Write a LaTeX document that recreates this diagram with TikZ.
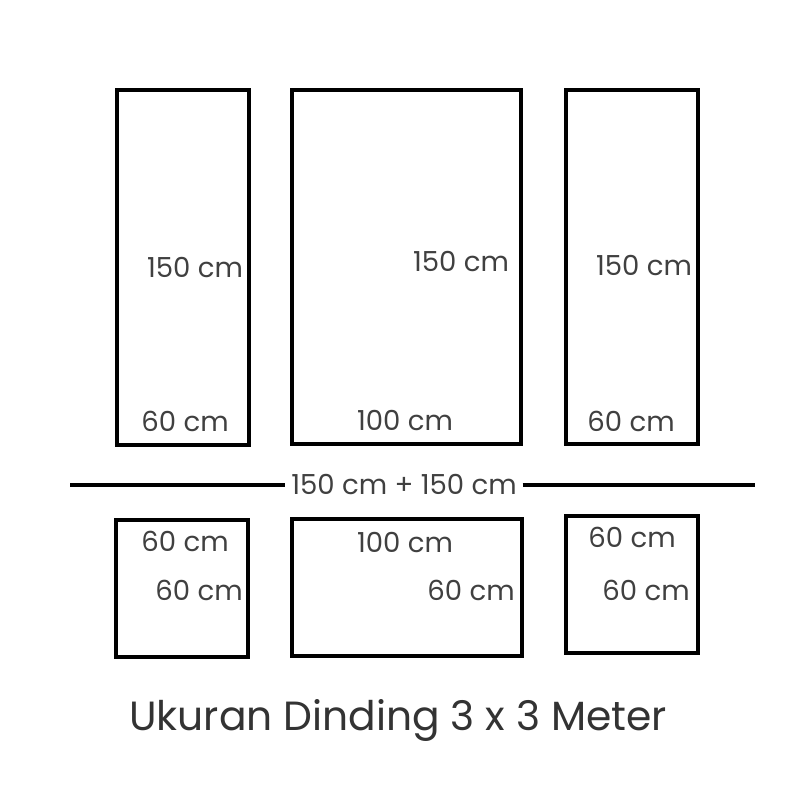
\documentclass[tikz,border=0pt]{standalone}
\usepackage{fontspec}
\setmainfont{Poppins}
\usepackage{tikz}
\usetikzlibrary{calc}

\begin{document}
\begin{tikzpicture}[x=0.025cm, y=-0.025cm]
    \tikzstyle{panel}=[draw=black,line width=2.8pt]
    \tikzstyle{size}=[text=black!75,font=\fontsize{19.6}{20}\selectfont,inner sep=1pt]
    \useasboundingbox[fill=white] (0,0) rectangle (800,800);
    % top row
    \draw[panel] (117,90) rectangle (249,445);
    \draw[panel] (292,90) rectangle (521,444);
    \draw[panel] (566,90) rectangle (698,444);
    \node[size] (h_1) at (195,268) {150 cm};
    \node[size] (w_1) at (185,421) {60 cm};
    \node[size] (h_2) at (461,262) {150 cm};
    \node[size] (w_2) at (405,421) {100 cm};
    \node[size] (h_3) at (644,266) {150 cm};
    \node[size] (w_3) at (631,421) {60 cm};
    % total height
    \coordinate (l_0) at (70,485);
    \coordinate (l_1) at (755,485);
    \node[size,inner sep=4pt] (tot) at (404,485) {150 cm + 150 cm};
    \draw[line width=2.6pt] (l_0) -- (tot.west);
    \draw[line width=2.6pt] (tot.east) -- (l_1);
    % bottom row
    \draw[panel] (116,520) rectangle (248,657);
    \draw[panel] (292,519) rectangle (522,656);
    \draw[panel] (566,516) rectangle (698,653);
    \node[size] (w_4) at (185,541) {60 cm};
    \node[size] (h_4) at (199,590) {60 cm};
    \node[size] (w_5) at (405,543) {100 cm};
    \node[size] (h_5) at (471,590) {60 cm};
    \node[size] (w_6) at (632,537) {60 cm};
    \node[size] (h_6) at (646,590) {60 cm};
    % title
    \node[text=black!80,font=\fontsize{29}{29}\selectfont] (title) at (398,720) {Ukuran Dinding 3 x 3 Meter};
\end{tikzpicture}
\end{document}
